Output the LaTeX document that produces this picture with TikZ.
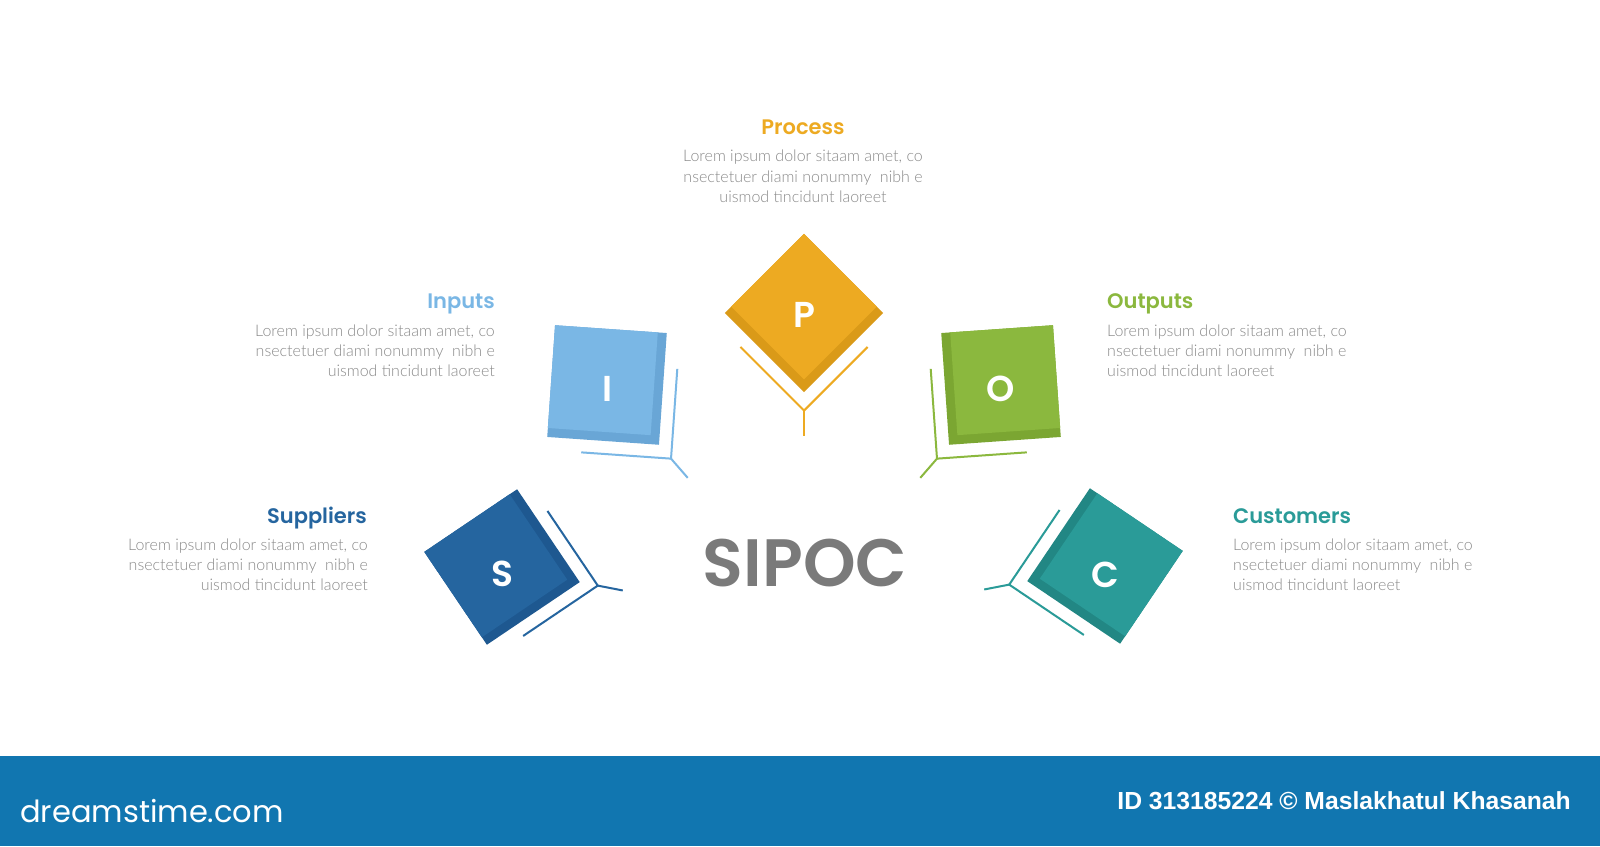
\documentclass[tikz,border=0pt]{standalone}
\usepackage{fontspec}
\setmainfont{Lato}
\newfontfamily\bodyfont{Lato Light}
\newfontfamily\titlefont{Poppins SemiBold}
\newfontfamily\letterfont{Poppins SemiBold}
\newfontfamily\dsfont{Poppins}
\newfontfamily\idfont{Liberation Sans}
\definecolor{cS}{HTML}{25659F}\definecolor{dS}{HTML}{1E5890}
\definecolor{cI}{HTML}{7AB7E5}\definecolor{dI}{HTML}{69A6D6}
\definecolor{cP}{HTML}{EDAA22}\definecolor{dP}{HTML}{DA9A18}
\definecolor{cO}{HTML}{8BB83E}\definecolor{dO}{HTML}{7BA632}
\definecolor{cC}{HTML}{2A9B98}\definecolor{dC}{HTML}{228784}
\definecolor{bodygray}{HTML}{8A8A8A}
\definecolor{bigray}{HTML}{7A7A7A}
\definecolor{banner}{HTML}{1176B0}
% #1,#2 centre; #3 rotation; #4 main colour; #5 dark colour; #6 letter; #7 name; #8 letter drop
\newcommand\sipocblock[8]{%
  \begin{scope}[shift={(#1,#2)},rotate=#3]
    \fill[#5] (-56,-56) rectangle (56,56);
    \fill[#4] (-56,-47) rectangle (47,56);
    \draw[bracket,#4] (69,21) -- (69,-69) -- (-21,-69);
    \draw[bracket,#4] (69,-69) -- (87,-87);
  \end{scope}
  \node[letter] (#7) at (#1,#2-#8) {#6};}
\begin{document}
\begin{tikzpicture}[x=1pt,y=1pt,
  bracket/.style={line width=2pt},
  letter/.style={text=white,font=\letterfont\fontsize{36}{40}\selectfont,inner sep=0},
  title/.style={font=\titlefont\fontsize{21}{25}\selectfont,inner sep=0},
  body/.style={font=\bodyfont\fontsize{16}{20.4}\selectfont,text=bodygray,inner sep=0}]
\fill[white] (0,0) rectangle (1600,846);
\useasboundingbox (0,0) rectangle (1600,846);
% blocks
\sipocblock{502}{279}{34}{cS}{dS}{S}{S}{7}
\sipocblock{607}{461}{-4}{cI}{dI}{I}{I}{4}
\sipocblock{804}{533}{-45}{cP}{dP}{P}{P}{2}
\sipocblock{1001}{461}{-86}{cO}{dO}{O}{O}{4}
\sipocblock{1105}{280}{236}{cC}{dC}{C}{C}{9}
% center title
\node[font=\titlefont\fontsize{67}{70}\selectfont,text=bigray,inner sep=0,anchor=base] (sipoc) at (805,259) {SIPOC};
% texts (body anchor = baseline of last line)
\node[title,text=cS,anchor=base east] (tS) at (367,322) {Suppliers};
\node[body,align=right,anchor=base east] (bS) at (368,255) {Lorem ipsum dolor sitaam amet, co\\nsectetuer diami nonummy~ nibh e\\uismod tincidunt laoreet};
\node[title,text=cI,anchor=base east] (tI) at (495,537) {Inputs};
\node[body,align=right,anchor=base east] (bI) at (495,469) {Lorem ipsum dolor sitaam amet, co\\nsectetuer diami nonummy~ nibh e\\uismod tincidunt laoreet};
\node[title,text=cP,anchor=base] (tP) at (803,711) {Process};
\node[body,align=center,anchor=base] (bP) at (803,643.5) {Lorem ipsum dolor sitaam amet, co\\nsectetuer diami nonummy~ nibh e\\uismod tincidunt laoreet};
\node[title,text=cO,anchor=base west] (tO) at (1107,537) {Outputs};
\node[body,align=left,anchor=base west] (bO) at (1107,469) {Lorem ipsum dolor sitaam amet, co\\nsectetuer diami nonummy~ nibh e\\uismod tincidunt laoreet};
\node[title,text=cC,anchor=base west] (tC) at (1233,322) {Customers};
\node[body,align=left,anchor=base west] (bC) at (1233,255) {Lorem ipsum dolor sitaam amet, co\\nsectetuer diami nonummy~ nibh e\\uismod tincidunt laoreet};
% banner
\fill[banner] (0,0) rectangle (1600,90);
\node[text=white,font=\dsfont\fontsize{30.5}{34}\selectfont,inner sep=0,anchor=base west] (ds) at (20,24) {dreamstime.com};
\node[text=white,font=\idfont\bfseries\fontsize{24.7}{28}\selectfont,inner sep=0,anchor=base east] (id) at (1571,37) {ID 313185224 © Maslakhatul Khasanah};
\end{tikzpicture}
\end{document}
